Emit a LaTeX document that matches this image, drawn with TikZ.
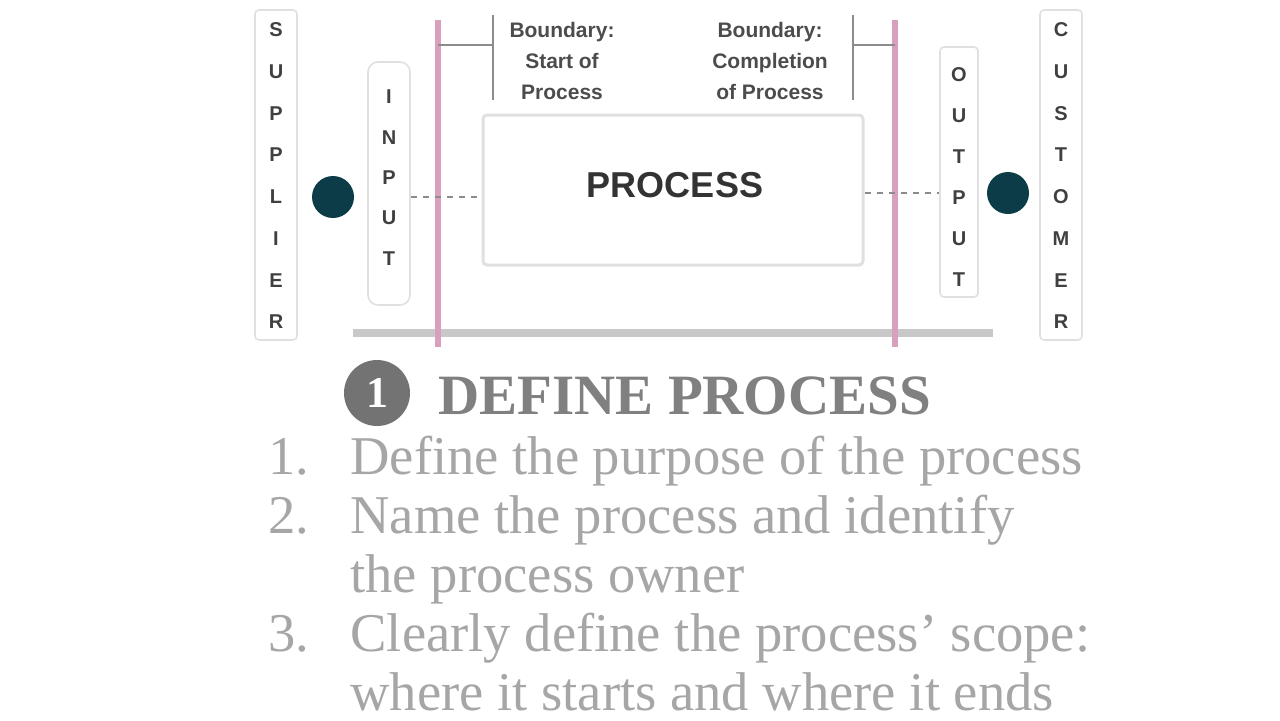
\documentclass[tikz,border=0pt]{standalone}
\usepackage{fontspec}
\setmainfont{Liberation Serif}
\setsansfont{Liberation Sans}
\usetikzlibrary{positioning}

\definecolor{boundpink}{HTML}{D9A0BE}
\definecolor{dotteal}{HTML}{0B3C48}
\definecolor{railgrey}{HTML}{C8C8C8}

\tikzset{
  letterbox/.style={draw=black!12, line width=0.8pt, rounded corners=2pt,
    minimum width=21pt, inner sep=0pt},
  letter/.style={font=\sffamily\bfseries\fontsize{10}{12}\selectfont, text=black!75, inner sep=0pt},
  bound/.style={font=\sffamily\bfseries\fontsize{10.5}{15.5}\selectfont, text=black!70,
    align=center, inner sep=0pt},
  boundline/.style={boundpink, line width=3pt},
  bracket/.style={black!45, line width=0.6pt},
  linkline/.style={black!45, dashed, line width=0.6pt},
  dot/.style={circle, fill=dotteal, minimum size=21pt, inner sep=0pt},
  listnum/.style={font=\fontsize{27.3}{29.5}\selectfont, text=black!35, anchor=base west, inner sep=0pt},
  listtext/.style={font=\fontsize{27.3}{29.5}\selectfont, text=black!35, anchor=base west, inner sep=0pt}
}

\begin{document}
\begin{tikzpicture}[x=0.5pt, y=-0.5pt]
\useasboundingbox (0,0) rectangle (1280,720);

% Draw the supplier and customer columns
\node[letterbox, minimum height=165pt] (supplier) at (276,175) {};
\foreach \l [count=\i from 0] in {S,U,P,P,L,I,E,R}
  \node[letter] (sup\i) at (276,{30+41.7*\i}) {\l};
\node[letterbox, minimum height=165pt] (customer) at (1061,175) {};
\foreach \l [count=\i from 0] in {C,U,S,T,O,M,E,R}
  \node[letter] (cus\i) at (1061,{30+41.7*\i}) {\l};

% Draw the input and output columns
\node[letterbox, rounded corners=5pt, minimum height=121.5pt] (input) at (389,183.5) {};
\foreach \l [count=\i from 0] in {I,N,P,U,T}
  \node[letter] (inp\i) at (389,{97+40.3*\i}) {\l};
\node[letterbox, minimum width=19pt, minimum height=125pt] (output) at (959,172) {};
\foreach \l [count=\i from 0] in {O,U,T,P,U,T}
  \node[letter] (out\i) at (959,{75+41*\i}) {\l};

% Draw the dots
\node[dot] (ldot) at (333,197) {};
\node[dot] (rdot) at (1008,193) {};

% Draw the process box
\node[draw=black!12, line width=1.5pt, rounded corners=2pt, minimum width=190pt,
  minimum height=75pt] (proc) at (673,190) {};
\node[font=\sffamily\bfseries\fontsize{18}{20}\selectfont, text=black!80]
  (proclabel) at (675,185) {PROCESS};

% Draw the rail and the boundaries
\draw[railgrey, line width=4pt] (353,333) -- (993,333);
\draw[boundline] (438,20) -- (438,347);
\draw[boundline] (895,20) -- (895,347);

% Draw the boundary labels with their brackets
\node[bound] (lstart) at (562,61) {Boundary:\\Start of\\Process};
\node[bound] (lend) at (770,61) {Boundary:\\Completion\\of Process};
\coordinate (lbr) at (493,45);
\coordinate (rbr) at (853,45);
\draw[bracket] (438,45) -- (lbr);
\draw[bracket] (493,15) -- (493,100);
\draw[bracket] (rbr) -- (895,45);
\draw[bracket] (853,15) -- (853,100);

% Draw the links through the boundaries
\draw[linkline] (input.east |- ldot) -- (proc.west |- ldot);
\draw[linkline] (proc.east |- rdot) -- (output.west |- rdot);

% Draw the heading
\node[circle, fill=black!55, minimum size=33pt, inner sep=0pt, text=white,
  font=\bfseries\fontsize{22}{22}\selectfont] (step1) at (377,393) {1};
\node[font=\bfseries\fontsize{28.5}{30}\selectfont, text=black!50, anchor=base west,
  inner sep=0pt] (title) at (438,414) {DEFINE PROCESS};

% Draw the list
\foreach \n/\y [count=\i] in {1./474, 2./533, 3./651}
  \node[listnum] (num\i) at (268,\y) {\n};
\foreach \t [count=\i from 0] in {Define the purpose of the process,
    Name the process and identify, the process owner,
    {Clearly define the process' scope:}, where it starts and where it ends}
  \node[listtext] (line\i) at (350,{474+59*\i}) {\t};

\end{tikzpicture}
\end{document}
